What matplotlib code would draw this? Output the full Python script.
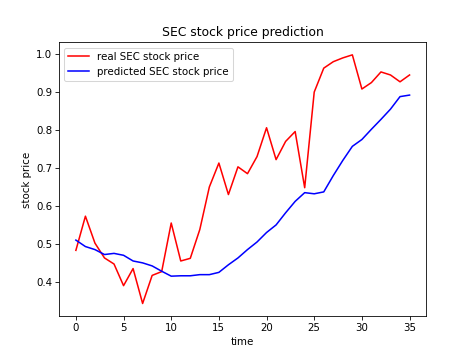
import matplotlib
matplotlib.use("Agg")
import matplotlib.pyplot as plt

real_price = [0.483, 0.573, 0.502, 0.463, 0.447, 0.390, 0.435, 0.343, 0.417, 0.427,
              0.555, 0.455, 0.462, 0.538, 0.650, 0.713, 0.630, 0.703, 0.685, 0.730,
              0.806, 0.722, 0.770, 0.796, 0.648, 0.900, 0.963, 0.980, 0.990, 0.998,
              0.908, 0.925, 0.953, 0.945, 0.927, 0.945]
predicted_price = [0.510, 0.493, 0.485, 0.472, 0.475, 0.470, 0.455, 0.450, 0.442, 0.428,
                   0.415, 0.416, 0.416, 0.419, 0.419, 0.425, 0.445, 0.463, 0.485, 0.505,
                   0.530, 0.550, 0.582, 0.612, 0.635, 0.632, 0.637, 0.680, 0.720, 0.757,
                   0.775, 0.802, 0.828, 0.855, 0.888, 0.892]

fig, ax = plt.subplots(figsize=(6.4, 4.8), dpi=74)
ax.plot(real_price, color="red", label="real SEC stock price")
ax.plot(predicted_price, color="blue", label="predicted SEC stock price")
ax.set_title("SEC stock price prediction")
ax.set_xlabel("time")
ax.set_ylabel("stock price")
ax.legend()

fig.savefig("out.png")
